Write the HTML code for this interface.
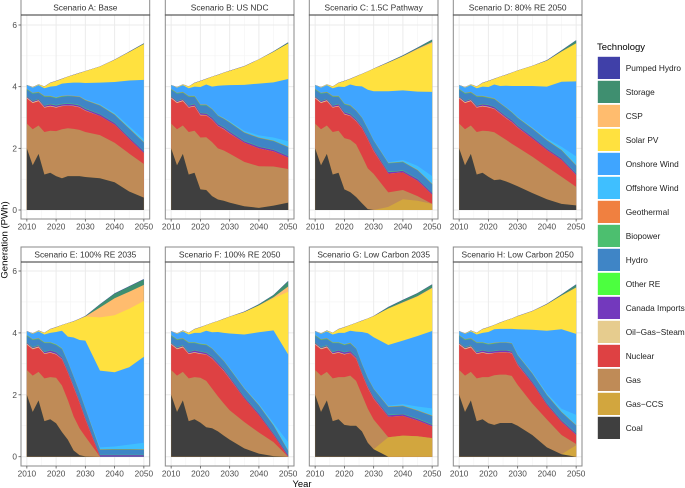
<!DOCTYPE html>
<html lang="en">
<head>
<meta charset="utf-8">
<title>Generation by technology across scenarios</title>
<style>
html,body{margin:0;padding:0;background:#fff;}
svg{display:block;font-family:"Liberation Sans",sans-serif;}
</style>
</head>
<body>
<svg id="chart" xmlns="http://www.w3.org/2000/svg" width="685" height="488" viewBox="0 0 685 488"></svg>
<script>
// Shared axis data
const years = [2010,2012,2014,2016,2018,2020,2022,2024,2026,2028,2030,2035,2040,2045,2050];
const xTicks = [2010,2020,2030,2040,2050];
const xMinorTicks = [2015,2025,2035,2045];
const yTicks = [0,2,4,6];
const yMinorTicks = [1,3,5];
const techNames = ["Coal","Gas\u2212CCS","Gas","Nuclear","Oil\u2212Gas\u2212Steam","Canada Imports","Other RE","Hydro","Biopower","Geothermal","Offshore Wind","Onshore Wind","Solar PV","CSP","Storage","Pumped Hydro"];
const scenarioTitles = ["Scenario A: Base","Scenario B: US NDC","Scenario C: 1.5C Pathway","Scenario D: 80% RE 2050","Scenario E: 100% RE 2035","Scenario F: 100% RE 2050","Scenario G: Low Carbon 2035","Scenario H: Low Carbon 2050"];

// Historic values, 2010-2018, common to all scenarios
const histCoal = [2.00,1.45,1.82,1.15,1.21];
const histGas = [0.80,1.17,0.92,1.38,1.36];
const histNuclear = [0.82,0.85,0.79,0.79,0.79];
const histHydro = [0.21,0.23,0.20,0.28,0.23];
const histOffshore = [0,0,0,0,0.01];
const histOnshore = [0.12,0.17,0.22,0.25,0.29];
const histSolar = [0,0.01,0.02,0.05,0.12];
const histZero = [0,0,0,0,0];

// Thin bands, 2010-2050, common to all scenarios
const oilGasSteam = [.03,.03,.03,.02,.02,.02,.01,.01,.01,.01,.01,0,0,0,0];
const canadaImports = [.03,.03,.03,.04,.05,.05,.05,.05,.05,.05,.05,.05,.05,.05,.05];
const otherRE = [.01,.01,.01,.01,.01,.01,.01,.01,.01,.01,.01,.01,.01,.01,.01];
const biopower = [.02,.02,.02,.02,.02,.02,.02,.01,.01,.01,.01,.01,.01,.01,.01];
const geothermal = [.01,.01,.01,.01,.01,.01,.01,.01,.01,.01,.01,.01,.01,.01,.01];
const pumpedHydro = [.01,.01,.01,.01,.01,.01,.01,.01,.01,.01,.01,.01,.01,.01,.01];

// Scenario projections, 2020-2050
const none = [0,0,0,0,0,0,0,0,0,0];

const coalA = [1.10,1.03,1.10,1.10,1.10,1.07,1.03,.90,.60,.40];
const gasA = [1.46,1.59,1.55,1.53,1.50,1.46,1.40,1.28,1.23,1.09];
const nuclearA = [.76,.75,.73,.74,.73,.69,.62,.59,.47,.36];
const hydroA = [.22,.23,.24,.24,.26,.26,.27,.25,.27,.27];
const offshoreA = [.01,.01,.01,.01,.01,.02,.03,.05,.07,.10];
const onshoreA = [.36,.39,.40,.42,.44,.53,.70,1.00,1.48,1.92];
const solarA = [.16,.15,.20,.25,.31,.38,.52,.72,.92,1.16];
const storageA = [0,0,0,0,0,0,0,0,.01,.02];

const coalB = [.67,.65,.45,.34,.30,.24,.12,.07,.14,.24];
const gasB = [1.68,1.71,1.75,1.66,1.63,1.59,1.44,1.35,1.27,1.09];
const nuclearB = [.72,.71,.73,.72,.69,.65,.62,.58,.49,.37];
const hydroB = [.24,.25,.26,.26,.26,.28,.26,.27,.27,.27];
const offshoreB = [.01,.01,.01,.01,.02,.03,.05,.07,.10,.18];
const onshoreB = [.56,.64,.71,.95,1.05,1.17,1.49,1.68,1.79,2.02];
const solarB = [.19,.18,.32,.35,.41,.46,.60,.78,.99,1.15];
const storageB = [0,0,0,0,0,0,0,0,.01,.03];

const coalC = [.67,.58,.42,.22,.03,0,0,0,0,0];
const ccsC = [0,0,0,0,0,0,.10,.35,.30,.20];
const gasC = [1.66,1.70,1.71,1.53,1.32,1.17,.47,.30,.15,0];
const nuclearC = [.77,.77,.75,.90,.94,.74,.61,.57,.50,.30];
const hydroC = [.24,.25,.26,.26,.26,.26,.27,.27,.27,.27];
const offshoreC = [.01,.01,.01,.01,.01,.01,.02,.05,.13,.25];
const onshoreC = [.53,.66,.78,1.00,1.25,1.58,2.30,2.26,2.41,2.73];
const solarC = [.19,.18,.31,.40,.59,.73,.92,1.10,1.36,1.58];
const cspC = [0,0,0,0,0,0,.01,.01,.03,.04];
const storageC = [0,0,0,0,0,0,.01,.02,.03,.07];

const coalD = [1.08,.97,.99,.93,.85,.77,.55,.35,.20,.15];
const gasD = [1.48,1.55,1.41,1.35,1.30,1.26,1.18,1.05,.88,.60];
const nuclearD = [.77,.76,.73,.70,.70,.64,.59,.54,.54,.38];
const hydroD = [.22,.24,.25,.26,.24,.24,.25,.25,.25,.24];
const offshoreD = [.01,.01,.01,.01,.02,.02,.03,.05,.10,.29];
const onshoreD = [.32,.44,.54,.69,.82,1.00,1.34,1.68,2.11,2.43];
const solarD = [.19,.18,.30,.35,.43,.50,.65,.84,.97,1.23];
const cspD = [0,0,0,0,0,0,0,0,.01,.01];
const storageD = [0,0,0,0,0,0,0,.01,.03,.09];

const coalE = [1.08,.80,.55,.20,.05,.01,0,0,0,0];
const gasE = [1.47,1.50,1.28,1.10,.87,.64,0,0,0,0];
const nuclearE = [.75,.85,.89,.94,.83,.56,0,0,0,0];
const hydroE = [.22,.25,.26,.26,.26,.26,.16,.17,.17,.16];
const offshoreE = [.01,.01,.01,.01,.01,.01,.06,.08,.14,.21];
const onshoreE = [.39,.56,.80,1.25,1.66,2.18,2.48,2.40,2.50,2.78];
const solarE = [.15,.18,.43,.52,.68,.78,1.72,1.84,1.89,1.80];
const cspE = [0,0,0,0,0,0,.32,.55,.55,.52];
const storageE = [0,0,0,0,0,.01,.10,.15,.17,.18];

const coalF = [1.10,.95,.92,.82,.68,.55,.27,.10,.02,0];
const gasF = [1.45,1.50,1.28,1.13,1.04,.95,.85,.68,.45,0];
const nuclearF = [.77,.85,.97,1.02,1.05,1.02,.76,.56,.23,0];
const hydroF = [.22,.23,.24,.24,.24,.24,.25,.25,.24,.12];
const offshoreF = [.01,.01,.01,.01,.01,.02,.02,.04,.07,.27];
const onshoreF = [.34,.43,.51,.72,.89,1.11,1.72,2.31,2.99,2.83];
const solarF = [.18,.18,.30,.35,.45,.54,.72,.86,1.04,2.03];
const cspF = [0,0,0,0,0,0,0,.01,.03,.17];
const storageF = [0,0,0,0,0,0,.01,.03,.07,.17];

const coalG = [1.03,1.00,1.00,.82,.45,.24,0,0,0,0];
const ccsG = [0,0,0,0,0,0,.63,.68,.66,.60];
const gasG = [1.54,1.62,1.45,1.18,1.10,.96,0,0,0,0];
const nuclearG = [.73,.73,.72,.67,.67,.67,.66,.64,.51,.38];
const hydroG = [.22,.23,.24,.24,.24,.24,.25,.25,.25,.27];
const offshoreG = [.01,.01,.01,.01,.01,.01,.03,.05,.12,.23];
const onshoreG = [.36,.38,.53,1.02,1.43,1.65,1.96,2.05,2.28,2.50];
const solarG = [.18,.18,.28,.36,.47,.68,1.17,1.22,1.27,1.37];
const cspG = [0,0,0,0,0,0,.01,.02,.02,.03];
const storageG = [0,0,0,0,0,0,.04,.07,.09,.10];

const coalH = [1.08,1.03,1.09,1.09,1.09,1.00,.70,.30,.08,0];
const ccsH = [0,0,0,0,0,0,0,0,0,.37];
const gasH = [1.49,1.60,1.56,1.56,1.52,1.32,1.02,.90,.62,.04];
const nuclearH = [.75,.72,.72,.72,.73,.64,.65,.47,.42,.29];
const hydroH = [.22,.23,.24,.24,.24,.24,.25,.25,.25,.24];
const offshoreH = [.01,.01,.01,.01,.01,.02,.03,.05,.10,.33];
const onshoreH = [.37,.43,.42,.42,.45,.81,1.37,2.02,2.57,2.62];
const solarH = [.15,.13,.20,.27,.33,.42,.60,.85,1.08,1.48];
const cspH = [0,0,0,0,0,0,0,0,.01,.02];
const storageH = [0,0,0,0,0,0,0,.01,.03,.09];

// Projection arrays grouped per scenario, in the order A-H
const coalRuns = [coalA,coalB,coalC,coalD,coalE,coalF,coalG,coalH];
const ccsRuns = [none,none,ccsC,none,none,none,ccsG,ccsH];
const gasRuns = [gasA,gasB,gasC,gasD,gasE,gasF,gasG,gasH];
const nuclearRuns = [nuclearA,nuclearB,nuclearC,nuclearD,nuclearE,nuclearF,nuclearG,nuclearH];
const hydroRuns = [hydroA,hydroB,hydroC,hydroD,hydroE,hydroF,hydroG,hydroH];
const offshoreRuns = [offshoreA,offshoreB,offshoreC,offshoreD,offshoreE,offshoreF,offshoreG,offshoreH];
const onshoreRuns = [onshoreA,onshoreB,onshoreC,onshoreD,onshoreE,onshoreF,onshoreG,onshoreH];
const solarRuns = [solarA,solarB,solarC,solarD,solarE,solarF,solarG,solarH];
const cspRuns = [none,none,cspC,cspD,cspE,cspF,cspG,cspH];
const storageRuns = [storageA,storageB,storageC,storageD,storageE,storageF,storageG,storageH];

// Styling and layout (not data)
const techColors = ["#3f3f3f","#d2a63e","#bf8b57","#de4143","#e6cc8e","#7339bd","#4cff3f","#3f85c6","#4cbf6f","#f08040","#3fbfff","#3fa5ff","#ffe13f","#ffbc6e","#3f8f70","#4040a8"];
const NS = "http://www.w3.org/2000/svg";
const svg = document.getElementById("chart");
const colLeft = [21,165.3,309.3,453.3];
const panelW = 128.7;
const rowGeom = [
  {stripTop:-1,stripBottom:15,bottom:219,y0:210,y6:25},
  {stripTop:247,stripBottom:262,bottom:466,y0:456.7,y6:271}
];

function make(tag, props, parent){
  const el = document.createElementNS(NS, tag);
  for (const k in props) el.setAttribute(k, props[k]);
  parent.appendChild(el);
  return el;
}
function seriesFor(i){
  return [
    histCoal.concat(coalRuns[i]),
    histZero.concat(ccsRuns[i]),
    histGas.concat(gasRuns[i]),
    histNuclear.concat(nuclearRuns[i]),
    oilGasSteam,
    canadaImports,
    otherRE,
    histHydro.concat(hydroRuns[i]),
    biopower,
    geothermal,
    histOffshore.concat(offshoreRuns[i]),
    histOnshore.concat(onshoreRuns[i]),
    histSolar.concat(solarRuns[i]),
    histZero.concat(cspRuns[i]),
    histZero.concat(storageRuns[i]),
    pumpedHydro
  ];
}

scenarioTitles.forEach(function(title, i){
  const col = i % 4, row = Math.floor(i / 4);
  const g = rowGeom[row];
  const left = colLeft[col], right = left + panelW;
  const xPad = 5.85;
  const xScale = function(v){ return left + xPad + (v - 2010) / 40 * (panelW - 2 * xPad); };
  const yScale = function(v){ return g.y0 - v / 6 * (g.y0 - g.y6); };

  const panel = make("g", {}, svg);
  
  

  const bg = make("rect", {x:left,y:g.stripBottom,width:panelW,height:g.bottom-g.stripBottom,fill:"#fff"}, panel);
  
  

  xMinorTicks.forEach(function(t){
    const l = make("line", {x1:xScale(t),x2:xScale(t),y1:g.stripBottom,y2:g.bottom,stroke:"#f3f3f3","stroke-width":0.6}, panel);
    
    
  });
  yMinorTicks.forEach(function(t){
    const l = make("line", {x1:left,x2:right,y1:yScale(t),y2:yScale(t),stroke:"#f3f3f3","stroke-width":0.6}, panel);
    
    
  });
  xTicks.forEach(function(t){
    const l = make("line", {x1:xScale(t),x2:xScale(t),y1:g.stripBottom,y2:g.bottom,stroke:"#ebebeb","stroke-width":1}, panel);
    
    
  });
  yTicks.forEach(function(t){
    const l = make("line", {x1:left,x2:right,y1:yScale(t),y2:yScale(t),stroke:"#ebebeb","stroke-width":1}, panel);
    
    
  });

  // Each band is painted from its stacked top down to zero, highest band first,
  // so neighbouring bands overlap and no white seams appear between them.
  const series = seriesFor(i);
  const tops = [];
  const running = years.map(function(){ return 0; });
  series.forEach(function(vals){
    vals.forEach(function(v, k){ running[k] += v; });
    tops.push(running.slice());
  });
  const zeroEdge = years.map(function(yr){ return xScale(yr).toFixed(2) + "," + yScale(0).toFixed(2); }).reverse();
  for (let s = series.length - 1; s >= 0; s--) {
    const upper = years.map(function(yr, k){ return xScale(yr).toFixed(2) + "," + yScale(tops[s][k]).toFixed(2); });
    const area = make("polygon", {points:upper.concat(zeroEdge).join(" "),fill:techColors[s]}, panel);
    
    
  }

  const border = make("rect", {x:left,y:g.stripBottom,width:panelW,height:g.bottom-g.stripBottom,fill:"none",stroke:"#8a8a8a","stroke-width":1}, panel);
  
  

  const strip = make("rect", {x:left,y:g.stripTop,width:panelW,height:g.stripBottom-g.stripTop,fill:"#fff",stroke:"#8a8a8a","stroke-width":1}, panel);
  
  

  const stripLine = make("line", {x1:left,x2:right,y1:g.stripBottom,y2:g.stripBottom,stroke:"#333","stroke-width":1}, panel);
  
  

  const label = make("text", {x:(left+right)/2,y:g.stripBottom-4.3,"text-anchor":"middle","font-size":8.4,fill:"#333"}, panel);
  
  
  label.textContent = title;

  xTicks.forEach(function(t){
    const tick = make("line", {x1:xScale(t),x2:xScale(t),y1:g.bottom,y2:g.bottom+2.5,stroke:"#555","stroke-width":0.8}, panel);
    
    
    const txt = make("text", {x:xScale(t),y:g.bottom+10.5,"text-anchor":"middle","font-size":8.3,fill:"#4d4d4d"}, panel);
    
    
    txt.textContent = t;
  });
  if (col === 0) {
    yTicks.forEach(function(t){
      const tick = make("line", {x1:left-2.5,x2:left,y1:yScale(t),y2:yScale(t),stroke:"#555","stroke-width":0.8}, panel);
      
      
      const txt = make("text", {x:left-4,y:yScale(t)+3,"text-anchor":"end","font-size":8.3,fill:"#4d4d4d"}, panel);
      
      
      txt.textContent = t;
    });
  }
});

const yTitle = make("text", {x:0,y:0,transform:"translate(7.3 240) rotate(-90)","text-anchor":"middle","font-size":9.6,fill:"#000"}, svg);


yTitle.textContent = "Generation (PWh)";

const xTitle = make("text", {x:302,y:487,"text-anchor":"middle","font-size":9.4,fill:"#000"}, svg);


xTitle.textContent = "Year";

const legend = make("g", {}, svg);



const legendTitle = make("text", {x:597,y:50,"font-size":9.5,fill:"#000"}, legend);


legendTitle.textContent = "Technology";

techNames.slice().reverse().forEach(function(name, k){
  const color = techColors[techColors.length - 1 - k];
  const cy = 68 + k * 24;
  const swatch = make("rect", {x:597.8,y:cy-11.2,width:22.2,height:22.2,fill:color}, legend);
  
  
  const txt = make("text", {x:625.7,y:cy+3,"font-size":8.3,fill:"#222"}, legend);
  
  
  txt.textContent = name;
});
</script>
</body>
</html>
